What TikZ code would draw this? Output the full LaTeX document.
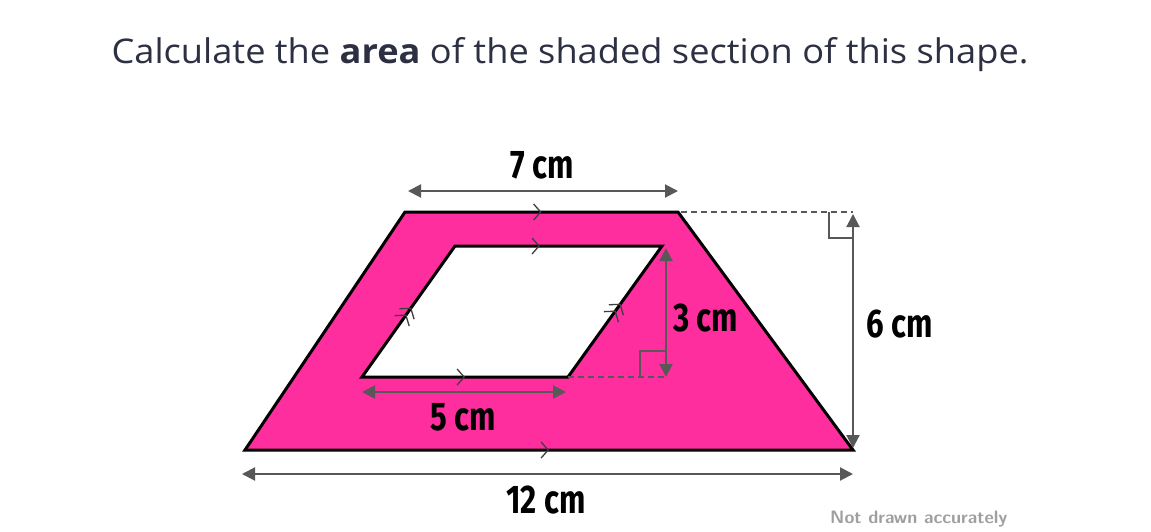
\documentclass[tikz,border=0pt]{standalone}
\usepackage{fontspec}
\setmainfont{Open Sans}
\newfontfamily\titlefont[FakeStretch=1.065]{Open Sans}
\newfontfamily\lblfont[FakeStretch=0.78]{Fira Sans}
\usetikzlibrary{calc,arrows.meta,decorations.markings}
\definecolor{pinkfill}{RGB}{255,46,158}
\definecolor{dimgray}{RGB}{88,88,88}
\definecolor{titlecol}{RGB}{44,48,66}
\begin{document}
\begin{tikzpicture}[x=1pt,y=-1pt,
	dim/.style={draw=dimgray,line width=2pt,{Triangle[length=13pt,width=13pt]}-{Triangle[length=13pt,width=13pt]}},
	guide/.style={draw=dimgray,line width=2pt,dash pattern=on 6pt off 4pt},
	rmark/.style={draw=dimgray,line width=1.3pt},
	lbl/.style={font=\lblfont\bfseries\fontsize{40}{40}\selectfont,inner sep=0pt},
	parone/.style={postaction={decorate,decoration={markings,mark=at position #1 with {\arrow[line width=1.3pt,dimgray!70!black]{Straight Barb[length=7pt,width=16pt]}}}}},
	partwo/.style={postaction={decorate,decoration={markings,mark=at position #1 with {\arrow[line width=1.3pt,dimgray!70!black]{Straight Barb[length=7pt,width=18pt]Straight Barb[length=7pt,width=18pt]}}}}}]
			\useasboundingbox[fill=white] (0,0) rectangle (1151,531);
			
			\node[font=\titlefont\fontsize{34}{34}\selectfont,text=titlecol] (title) at (570,55) {Calculate the \textbf{area} of the shaded section of this shape.};
			
			%trapezium
			\coordinate (bl) at (245,450);
			\coordinate (br) at (853,450);
			\coordinate (tr) at (678,212);
			\coordinate (tl) at (405,212);
			%parallelogram
			\coordinate (pbl) at (362,377);
			\coordinate (pbr) at (568,377);
			\coordinate (ptr) at (662,246);
			\coordinate (ptl) at (455,246);
			
			\fill[pinkfill] (bl)--(br)--(tr)--(tl)--cycle;
			\draw[line width=3pt,line join=miter] (bl)--(br)--(tr)--(tl)--cycle;
			\fill[white] (pbl)--(pbr)--(ptr)--(ptl)--cycle;
			\draw[line width=3pt,line join=miter] (pbl)--(pbr)--(ptr)--(ptl)--cycle;
			
			%parallel marks
			\path[parone=0.5] (bl)--(br);
			\path[parone=0.5] (tl)--(tr);
			\path[parone=0.41] (ptl)--(ptr);
			\path[parone=0.5] (pbl)--(pbr);
			\path[partwo=0.53] (pbl)--(ptl);
			\path[partwo=0.56] (pbr)--(ptr);
			
			%guides
			\coordinate (t6) at ($(br)+(0,-238)$);
			\coordinate (b3) at ($(ptr)+(4,131)$);
			\draw[guide] ($(tr)+(3,0)$) -- (t6);
			\draw[guide] (pbr) -- (b3);
			\draw[rmark] ($(t6)+(-24,0)$) -- ($(t6)+(-24,26)$) -- ($(t6)+(0,26)$);
			\draw[rmark] ($(b3)+(-26,0)$) -- ($(b3)+(-26,-26)$) -- ($(b3)+(0,-26)$);
			
			%dimensions
			\draw[dim] ($(tl)+(3,-21)$) -- ($(tr)+(0,-21)$);
			\draw[dim] ($(pbl)+(0,15)$) -- ($(pbr)+(-2,15)$);
			\draw[dim] ($(bl)+(-3,24)$) -- ($(br)+(0,24)$);
			\draw[dim] ($(ptr)+(4,2)$) -- (b3);
			\draw[dim] ($(t6)+(0,2)$) -- ($(br)+(0,-2)$);
			
			\node[lbl] (l7) at (542,165) {7 cm};
			\node[lbl] (l5) at (463,417) {5 cm};
			\node[lbl] (l12) at (546,500) {12 cm};
			\node[lbl,anchor=west] (l3) at (673,318) {3 cm};
			\node[lbl,anchor=west] (l6) at (866,324) {6 cm};
			
			\node[anchor=south west,inner sep=0pt,font=\sffamily\bfseries\fontsize{18}{18}\selectfont,text=gray!75] (nda) at (830,527) {Not drawn accurately};
		\end{tikzpicture}
\end{document}
